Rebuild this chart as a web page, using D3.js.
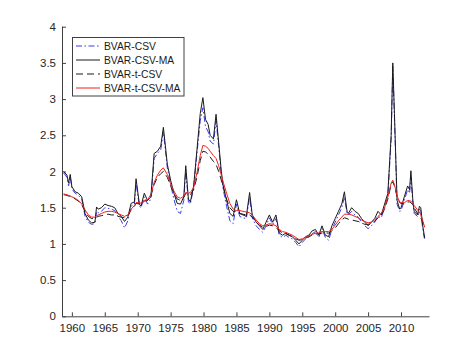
<!DOCTYPE html>
<html><head><meta charset="utf-8">
<script src="https://cdn.jsdelivr.net/npm/d3@7"></script>
<style>body{margin:0;background:#fff}svg{display:block}text{font-family:"Liberation Sans",Arial,sans-serif}</style>
</head><body>
<svg id="c" width="474" height="355"></svg>
<script>
const years = [1958.75,1959.25,1959.5,1959.75,1960,1960.5,1961,1961.5,1962,1962.5,1963,1963.5,1963.75,1964,1964.5,1965,1965.5,1966,1966.5,1967,1967.5,1968,1968.5,1969,1969.5,1969.75,1970.25,1970.5,1971,1971.5,1972,1972.5,1973,1973.5,1973.9,1974.5,1975,1975.5,1976,1976.5,1977,1977.3,1977.7,1978,1978.5,1979,1979.5,1979.9,1980.3,1980.7,1981,1981.5,1981.9,1982.3,1982.7,1983,1983.5,1984,1984.5,1985,1985.5,1986,1986.5,1987,1987.4,1988,1988.5,1989,1989.5,1990,1990.5,1991,1991.5,1992,1992.5,1993,1993.5,1994,1994.5,1995,1995.5,1996,1996.5,1997,1997.5,1998,1998.5,1999,1999.5,2000,2000.5,2001,2001.4,2001.8,2002,2002.5,2003,2003.5,2004,2004.5,2005,2005.5,2006,2006.5,2007,2007.5,2008,2008.5,2008.75,2009,2009.4,2009.8,2010,2010.5,2011,2011.3,2011.5,2011.8,2012,2012.5,2012.8,2013,2013.3,2013.6];
const csvMA = [2.00,1.95,1.84,1.96,1.79,1.72,1.70,1.65,1.42,1.33,1.29,1.30,1.51,1.48,1.50,1.55,1.53,1.52,1.50,1.42,1.38,1.31,1.37,1.56,1.58,1.90,1.55,1.52,1.70,1.60,1.65,2.25,2.28,2.35,2.61,2.10,1.88,1.70,1.56,1.55,1.65,2.08,1.62,1.58,1.80,2.30,2.80,3.02,2.72,2.65,2.50,2.45,2.79,2.40,2.00,1.80,1.60,1.42,1.38,1.61,1.42,1.40,1.38,1.71,1.40,1.30,1.25,1.20,1.30,1.40,1.30,1.40,1.15,1.12,1.15,1.12,1.10,1.05,1.00,1.05,1.10,1.12,1.18,1.20,1.12,1.25,1.12,1.10,1.25,1.35,1.45,1.55,1.72,1.45,1.42,1.50,1.45,1.42,1.35,1.30,1.25,1.30,1.35,1.45,1.40,1.55,1.70,2.50,3.50,2.80,1.60,1.48,1.50,1.65,1.80,1.75,2.01,1.60,1.45,1.40,1.52,1.50,1.25,1.08];
const csv = [1.98,1.92,1.80,1.93,1.76,1.70,1.67,1.62,1.38,1.30,1.27,1.28,1.45,1.43,1.45,1.50,1.49,1.48,1.46,1.38,1.32,1.22,1.32,1.52,1.55,1.85,1.52,1.50,1.65,1.55,1.62,2.18,2.25,2.30,2.55,2.05,1.82,1.62,1.45,1.42,1.60,2.02,1.58,1.55,1.78,2.25,2.70,2.88,2.62,2.55,2.42,2.38,2.70,2.35,1.95,1.75,1.52,1.32,1.28,1.55,1.38,1.36,1.35,1.65,1.36,1.25,1.20,1.16,1.25,1.36,1.27,1.35,1.12,1.09,1.12,1.09,1.07,1.02,0.96,1.02,1.07,1.09,1.14,1.17,1.09,1.21,1.09,1.05,1.20,1.30,1.40,1.50,1.65,1.42,1.40,1.45,1.40,1.37,1.30,1.25,1.21,1.25,1.30,1.38,1.36,1.50,1.65,2.45,3.45,2.75,1.55,1.45,1.46,1.60,1.75,1.70,1.92,1.56,1.42,1.38,1.48,1.45,1.20,1.05];
const tCsv = [1.68,1.67,1.66,1.66,1.65,1.62,1.59,1.54,1.45,1.38,1.35,1.35,1.37,1.38,1.39,1.40,1.41,1.40,1.40,1.38,1.37,1.36,1.39,1.47,1.52,1.56,1.55,1.55,1.59,1.60,1.66,1.82,1.92,1.97,2.00,1.92,1.80,1.70,1.62,1.60,1.64,1.70,1.68,1.68,1.75,1.92,2.15,2.28,2.27,2.24,2.20,2.14,2.10,2.00,1.88,1.78,1.62,1.50,1.45,1.44,1.42,1.41,1.40,1.40,1.37,1.30,1.26,1.23,1.24,1.26,1.25,1.23,1.18,1.15,1.14,1.12,1.10,1.07,1.05,1.06,1.08,1.10,1.12,1.14,1.14,1.15,1.15,1.15,1.18,1.22,1.28,1.33,1.36,1.35,1.34,1.33,1.32,1.31,1.29,1.27,1.27,1.28,1.31,1.36,1.40,1.48,1.62,1.82,1.86,1.80,1.65,1.57,1.56,1.55,1.58,1.58,1.57,1.54,1.50,1.42,1.39,1.36,1.30,1.22];
const tCsvMA = [1.69,1.68,1.67,1.66,1.65,1.63,1.60,1.55,1.47,1.40,1.37,1.37,1.39,1.40,1.42,1.44,1.45,1.45,1.44,1.42,1.40,1.38,1.40,1.48,1.53,1.57,1.57,1.56,1.60,1.61,1.68,1.85,1.95,2.02,2.05,1.96,1.83,1.73,1.65,1.63,1.66,1.71,1.70,1.71,1.78,1.98,2.22,2.36,2.35,2.32,2.28,2.22,2.18,2.08,1.95,1.85,1.70,1.56,1.48,1.46,1.46,1.45,1.44,1.43,1.40,1.33,1.28,1.25,1.26,1.28,1.27,1.25,1.20,1.17,1.16,1.14,1.12,1.09,1.06,1.07,1.09,1.11,1.13,1.15,1.15,1.17,1.17,1.17,1.20,1.26,1.32,1.37,1.41,1.41,1.41,1.40,1.38,1.36,1.33,1.31,1.29,1.30,1.33,1.38,1.42,1.50,1.65,1.84,1.88,1.82,1.66,1.58,1.57,1.57,1.60,1.60,1.59,1.56,1.53,1.47,1.44,1.40,1.32,1.23];
const xTicks = [1960,1965,1970,1975,1980,1985,1990,1995,2000,2005,2010];
const yTicks = [0,0.5,1,1.5,2,2.5,3,3.5,4];
const seriesNames = ["BVAR-CSV","BVAR-CSV-MA","BVAR-t-CSV","BVAR-t-CSV-MA"];

const svg = d3.select("#c");
const L = 62, R = 429, T = 26.7, B = 316.3;
const x = d3.scaleLinear().domain([1958.5, 2014.25]).range([L, R]);
const y = d3.scaleLinear().domain([0, 4]).range([B, T]);
const axisCol = "#404040";

const xa = svg.append("g").attr("transform", `translate(0,${B})`)
  .call(d3.axisBottom(x).tickValues(xTicks).tickFormat(d3.format("d")).tickSizeInner(-4).tickSizeOuter(0).tickPadding(8));
const ya = svg.append("g").attr("transform", `translate(${L},0)`)
  .call(d3.axisLeft(y).tickValues(yTicks).tickFormat(d => String(d)).tickSizeInner(-4).tickSizeOuter(0).tickPadding(6));
[xa, ya].forEach(g => {
  g.select(".domain").attr("stroke", axisCol).attr("stroke-width", 1);
  g.selectAll(".tick line").attr("stroke", axisCol);
  g.selectAll("text").attr("fill", "#262626").style("font-size", "11.5px");
});
ya.select(".domain").attr("d", `M0.5,${B}V${T}`);

const styles = [
  {data: csv, color: "#3a3af0", dash: "6,2.5,1.5,2.5"},
  {data: csvMA, color: "#1a1a1a", dash: null},
  {data: tCsv, color: "#1a1a1a", dash: "7,4"},
  {data: tCsvMA, color: "#f02020", dash: null}
];
const line = d3.line().x((d, i) => x(years[i])).y(d => y(d));
styles.forEach(s => {
  svg.append("path").datum(s.data).attr("d", line).attr("fill", "none")
    .attr("stroke", s.color).attr("stroke-width", 1)
    .attr("stroke-dasharray", s.dash);
});

const lg = svg.append("g");
lg.append("rect").attr("x", 72.5).attr("y", 37.5).attr("width", 111.5).attr("height", 58.5)
  .attr("fill", "#fff").attr("stroke", "#404040").attr("stroke-width", 1);
seriesNames.forEach((n, i) => {
  const yy = 46 + i * 14;
  lg.append("line").attr("x1", 76).attr("x2", 100).attr("y1", yy).attr("y2", yy)
    .attr("stroke", styles[i].color).attr("stroke-width", 1).attr("stroke-dasharray", styles[i].dash);
  lg.append("text").attr("x", 104).attr("y", yy).attr("dy", "0.35em")
    .style("font-size", "10.3px").attr("fill", "#1a1a1a").text(n);
});
</script>
</body></html>
